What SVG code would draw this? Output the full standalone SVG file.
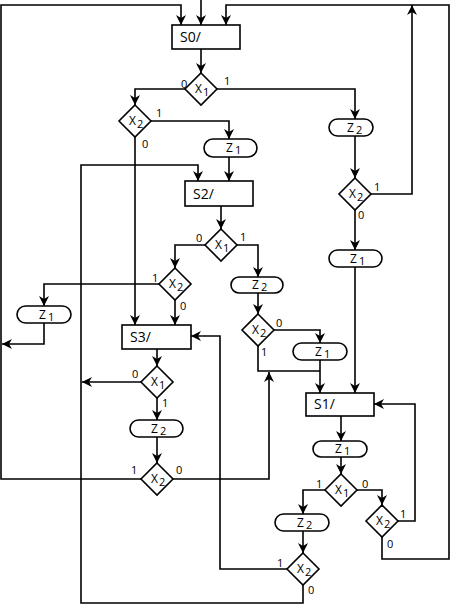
<svg xmlns="http://www.w3.org/2000/svg" width="450" height="605" viewBox="0 0 450 605">
<style>
.ln{fill:none;stroke:#000;stroke-width:1.6;marker-end:url(#ah)}
.nm{fill:none;stroke:#000;stroke-width:1.6}
.bx{fill:#fff;stroke:#000;stroke-width:1.6}
.st{font-family:"Open Sans","DejaVu Sans",sans-serif;font-size:14px;fill:#000}
.vr{font-family:"Open Sans","DejaVu Sans",sans-serif;font-size:12px;fill:#000}
.sb{font-size:11px}
.lb{font-family:"Open Sans","DejaVu Sans",sans-serif;font-size:11px;fill:#000}
</style>
<defs>
<marker id="ah" markerUnits="userSpaceOnUse" markerWidth="12" markerHeight="10" refX="10" refY="5" orient="auto">
<path d="M0,0 L10,5 L0,10 L3,5 z" fill="#000"/>
</marker>
</defs>
<rect width="450" height="605" fill="#fff"/>
<g id="connectors">
<path class="ln" d="M201,0 V25"/>
<path class="ln" d="M142,479 H1 V5 H181 V25"/>
<path class="ln" d="M44,323 V344 H2"/>
<path class="ln" d="M382,537 V559 H449 V5 H226 V25"/>
<path class="ln" d="M371,194 H412 V5"/>
<path class="ln" d="M201,49 V73"/>
<path class="ln" d="M185,89 H135 V105"/>
<path class="ln" d="M217,89 H355 V119"/>
<path class="ln" d="M151,121 H229 V139"/>
<path class="ln" d="M135,137 V325"/>
<path class="ln" d="M229,157 V181"/>
<path class="ln" d="M355,136 V178"/>
<path class="ln" d="M355,210 V250"/>
<path class="ln" d="M355,267 V393"/>
<path class="ln" d="M221,206 V229"/>
<path class="ln" d="M205,245 H175 V268"/>
<path class="ln" d="M237,245 H258 V277"/>
<path class="ln" d="M159,284 H44 V306"/>
<path class="ln" d="M175,300 V325"/>
<path class="ln" d="M258,293 V314"/>
<path class="ln" d="M274,330 H320 V343"/>
<path class="ln" d="M320,360 V393"/>
<path class="nm" d="M258,346 V371 H320"/>
<path class="ln" d="M173,479 H269 V372"/>
<path class="ln" d="M157,349 V366"/>
<path class="ln" d="M141,382 H82"/>
<path class="ln" d="M157,398 V420"/>
<path class="ln" d="M157,437 V463"/>
<path class="ln" d="M341,416 V441"/>
<path class="ln" d="M341,457 V474"/>
<path class="ln" d="M325,490 H303 V514"/>
<path class="ln" d="M357,490 H382 V505"/>
<path class="ln" d="M398,521 H415 V404 H374"/>
<path class="ln" d="M303,531 V553"/>
<path class="ln" d="M287,569 H220 V336 H191"/>
<path class="ln" d="M303,585 V603 H81 V165 H198 V181"/>
</g>
<g id="S0"><rect class="bx" x="172" y="25" width="68" height="24"/><text class="st" x="180" y="42">S0/</text></g>
<g id="S2"><rect class="bx" x="185" y="181" width="68" height="25"/><text class="st" x="193" y="199">S2/</text></g>
<g id="S3"><rect class="bx" x="122" y="325" width="69" height="24"/><text class="st" x="130" y="342">S3/</text></g>
<g id="S1"><rect class="bx" x="306" y="393" width="68" height="23"/><text class="st" x="314" y="409">S1/</text></g>
<g id="d1"><path class="bx" d="M201,73 L217,89 L201,105 L185,89 z"/><text class="vr" x="195" y="93">X<tspan class="sb" dx="1" dy="3">1</tspan></text><text class="lb" x="181" y="88">0</text><text class="lb" x="224" y="85">1</text></g>
<g id="d2"><path class="bx" d="M135,105 L151,121 L135,137 L119,121 z"/><text class="vr" x="129" y="125">X<tspan class="sb" dx="1" dy="3">2</tspan></text><text class="lb" x="156" y="117">1</text><text class="lb" x="142" y="148">0</text></g>
<g id="d3"><path class="bx" d="M355,178 L371,194 L355,210 L339,194 z"/><text class="vr" x="349" y="198">X<tspan class="sb" dx="1" dy="3">2</tspan></text><text class="lb" x="374" y="191">1</text><text class="lb" x="358" y="219">0</text></g>
<g id="d4"><path class="bx" d="M221,229 L237,245 L221,261 L205,245 z"/><text class="vr" x="215" y="249">X<tspan class="sb" dx="1" dy="3">1</tspan></text><text class="lb" x="196" y="242">0</text><text class="lb" x="240" y="241">1</text></g>
<g id="d5"><path class="bx" d="M175,268 L191,284 L175,300 L159,284 z"/><text class="vr" x="169" y="288">X<tspan class="sb" dx="1" dy="3">2</tspan></text><text class="lb" x="152" y="282">1</text><text class="lb" x="180" y="310">0</text></g>
<g id="d6"><path class="bx" d="M258,314 L274,330 L258,346 L242,330 z"/><text class="vr" x="252" y="334">X<tspan class="sb" dx="1" dy="3">2</tspan></text><text class="lb" x="276" y="327">0</text><text class="lb" x="261" y="356">1</text></g>
<g id="d7"><path class="bx" d="M157,366 L173,382 L157,398 L141,382 z"/><text class="vr" x="151" y="386">X<tspan class="sb" dx="1" dy="3">1</tspan></text><text class="lb" x="132" y="378">0</text><text class="lb" x="162" y="407">1</text></g>
<g id="d8"><path class="bx" d="M157,463 L173,479 L157,495 L141,479 z"/><text class="vr" x="151" y="483">X<tspan class="sb" dx="1" dy="3">2</tspan></text><text class="lb" x="131" y="474">1</text><text class="lb" x="176" y="474">0</text></g>
<g id="d9"><path class="bx" d="M341,474 L357,490 L341,506 L325,490 z"/><text class="vr" x="335" y="494">X<tspan class="sb" dx="1" dy="3">1</tspan></text><text class="lb" x="316" y="488">1</text><text class="lb" x="362" y="488">0</text></g>
<g id="d10"><path class="bx" d="M382,505 L398,521 L382,537 L366,521 z"/><text class="vr" x="376" y="525">X<tspan class="sb" dx="1" dy="3">2</tspan></text><text class="lb" x="400" y="518">1</text><text class="lb" x="387" y="548">0</text></g>
<g id="d11"><path class="bx" d="M303,553 L319,569 L303,585 L287,569 z"/><text class="vr" x="297" y="573">X<tspan class="sb" dx="1" dy="3">2</tspan></text><text class="lb" x="277" y="567">1</text><text class="lb" x="308" y="594">0</text></g>
<g id="z1a"><rect class="bx" x="204" y="139" width="53" height="18" rx="9"/><text class="vr" x="226" y="152">Z<tspan class="sb" dx="2" dy="2">1</tspan></text></g>
<g id="z2a"><rect class="bx" x="329" y="119" width="44" height="17" rx="8.5"/><text class="vr" x="347" y="132">Z<tspan class="sb" dx="2" dy="2">2</tspan></text></g>
<g id="z1b"><rect class="bx" x="329" y="250" width="53" height="17" rx="8.5"/><text class="vr" x="350" y="263">Z<tspan class="sb" dx="2" dy="2">1</tspan></text></g>
<g id="z2b"><rect class="bx" x="231" y="277" width="52" height="16" rx="8"/><text class="vr" x="252" y="289">Z<tspan class="sb" dx="2" dy="2">2</tspan></text></g>
<g id="z1c"><rect class="bx" x="17" y="306" width="54" height="17" rx="8.5"/><text class="vr" x="39" y="319">Z<tspan class="sb" dx="2" dy="2">1</tspan></text></g>
<g id="z1d"><rect class="bx" x="293" y="343" width="54" height="17" rx="8.5"/><text class="vr" x="315" y="356">Z<tspan class="sb" dx="2" dy="2">1</tspan></text></g>
<g id="z2c"><rect class="bx" x="130" y="420" width="53" height="17" rx="8.5"/><text class="vr" x="151" y="433">Z<tspan class="sb" dx="2" dy="2">2</tspan></text></g>
<g id="z1e"><rect class="bx" x="313" y="441" width="54" height="16" rx="8"/><text class="vr" x="335" y="453">Z<tspan class="sb" dx="2" dy="2">1</tspan></text></g>
<g id="z2d"><rect class="bx" x="275" y="514" width="54" height="17" rx="8.5"/><text class="vr" x="297" y="527">Z<tspan class="sb" dx="2" dy="2">2</tspan></text></g>
</svg>
